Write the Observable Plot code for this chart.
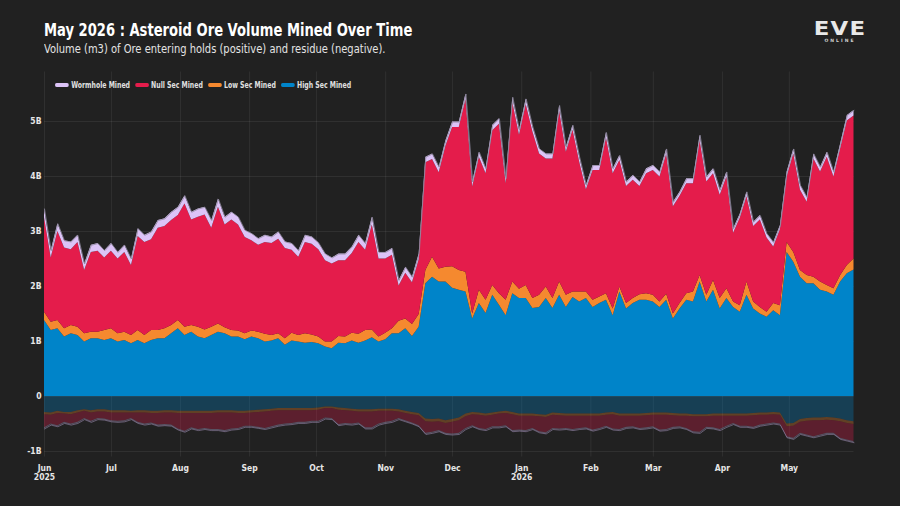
<!DOCTYPE html>
<html><head><meta charset="utf-8">
<script src="https://cdn.jsdelivr.net/npm/d3@7"></script>
<script src="https://cdn.jsdelivr.net/npm/@observablehq/plot@0.6"></script>
<style>
html,body{margin:0;padding:0;background:#212121;}
#wrap{position:relative;width:900px;height:506px;overflow:hidden;background:#212121;font-family:"DejaVu Sans Condensed","DejaVu Sans",sans-serif;}
#chart{position:absolute;left:0;top:0;}
#title{position:absolute;left:44px;top:19px;color:#fff;font-weight:700;font-size:18px;white-space:nowrap;transform:scaleX(0.81);transform-origin:0 0;}
#subtitle{position:absolute;left:44px;top:41px;color:#e4e4e4;font-size:13px;white-space:nowrap;transform:scaleX(0.85);transform-origin:0 0;}
#legend{position:absolute;left:55px;top:80px;display:flex;gap:6px;font-size:8.5px;font-weight:700;color:#e0e0e0;white-space:nowrap;transform:scaleX(0.81);transform-origin:0 0;}
#legend .it{display:flex;align-items:center;gap:3px;}
#legend .sw{width:17px;height:4px;border-radius:2px;display:inline-block;}
#logo{position:absolute;left:806px;top:19px;width:68px;text-align:center;color:#e8e8e8;}
#logo .eve{font-family:"DejaVu Sans",sans-serif;font-weight:700;font-size:19px;letter-spacing:1px;line-height:19px;transform:scaleX(1.2);}
#logo .onl{font-family:"DejaVu Sans",sans-serif;font-weight:700;font-size:4.5px;letter-spacing:2px;line-height:6px;color:#cfcfcf;}
</style></head>
<body>
<div id="wrap">
  <div id="chart"></div>
  <div id="title">May 2026 : Asteroid Ore Volume Mined Over Time</div>
  <div id="subtitle">Volume (m3) of Ore entering holds (positive) and residue (negative).</div>
  <div id="legend"></div>
  <div id="logo"><div class="eve">EVE</div><div class="onl">ONLINE</div></div>
</div>
<script>
// ---- data (billions of m3), one value every 3 days from 2025-06-01 ----
const startDate = "2025-06-01";
const stepDays = 3;

const highSec = [1.38,1.20,1.23,1.08,1.14,1.11,0.99,1.05,1.05,1.02,1.05,0.99,1.02,0.96,1.02,0.96,1.02,1.05,1.05,1.14,1.23,
1.11,1.17,1.08,1.05,1.11,1.17,1.14,1.08,1.08,1.03,1.08,1.05,0.99,1.01,1.05,0.93,1.01,0.99,0.97,0.98,
0.96,0.90,0.87,0.97,0.96,1.01,0.97,1.01,1.07,0.99,1.03,1.14,1.14,1.23,1.09,1.26,2.05,2.17,2.08,2.08,
1.97,1.93,1.90,1.41,1.69,1.51,1.84,1.66,1.47,1.87,1.78,1.78,1.60,1.62,1.78,1.60,1.84,1.62,1.80,1.72,
1.78,1.62,1.69,1.75,1.47,1.90,1.59,1.69,1.75,1.75,1.72,1.62,1.75,1.41,1.59,1.75,1.72,2.08,1.72,1.93,
1.59,1.78,1.62,1.53,1.84,1.59,1.50,1.44,1.56,1.47,2.62,2.44,2.17,2.05,2.05,1.93,1.90,1.84,2.08,2.23,2.30];

const lowSec = [.15,.15,.15,.15,.15,.15,.15,.12,.12,.18,.18,.15,.15,.15,.18,.15,.18,.15,.18,.15,.15,
.15,.12,.18,.16,.15,.15,.11,.12,.11,.11,.11,.12,.14,.10,.09,.12,.14,.12,.17,.14,
.12,.09,.12,.12,.12,.14,.16,.19,.14,.09,.12,.09,.23,.18,.22,.23,.24,.36,.24,.27,
.39,.36,.36,.09,.24,.24,.18,.21,.28,.21,.17,.24,.18,.22,.21,.18,.24,.22,.10,.18,
.12,.13,.12,.12,.12,.09,.10,.09,.10,.12,.12,.10,.11,.09,.10,.12,.18,.12,.12,.18,
.19,.18,.10,.12,.24,.13,.12,.09,.13,.18,.18,.18,.12,.15,.12,.15,.12,.12,.12,.15,.20];

const nullSec = [1.72,1.17,1.62,1.47,1.38,1.54,1.15,1.45,1.47,1.32,1.41,1.36,1.45,1.27,1.71,1.69,1.65,1.86,1.86,1.91,1.91,
2.24,1.92,2.00,2.09,1.80,2.12,1.87,2.01,1.93,1.75,1.64,1.58,1.67,1.67,1.72,1.64,1.51,1.42,1.66,1.65,
1.59,1.48,1.42,1.38,1.39,1.45,1.67,1.46,1.91,1.42,1.35,1.34,0.64,0.83,0.76,0.99,1.96,1.78,1.75,2.20,
2.53,2.60,3.14,2.31,2.42,2.30,2.81,3.08,2.12,3.26,2.80,3.29,3.03,2.57,2.33,2.54,3.11,2.60,2.94,2.36,
1.86,2.36,2.30,2.83,2.46,2.30,2.13,2.15,1.97,2.18,2.27,2.27,2.54,1.95,1.95,2.00,1.97,2.45,2.06,1.94,
1.88,2.03,1.25,1.59,1.55,1.37,1.59,1.35,1.03,1.38,1.19,1.79,1.46,1.33,2.15,2.00,2.33,2.03,2.30,2.63,2.60];

const wormhole = [.16,.13,.14,.13,.14,.13,.12,.13,.14,.13,.14,.12,.13,.12,.14,.13,.14,.14,.14,.15,.15,
.15,.14,.15,.14,.14,.15,.14,.14,.14,.13,.13,.12,.13,.12,.13,.12,.12,.12,.13,.13,
.12,.12,.11,.12,.12,.12,.13,.12,.14,.12,.12,.12,.10,.11,.10,.11,.10,.10,.10,.10,
.10,.10,.10,.09,.09,.09,.10,.10,.09,.10,.09,.10,.09,.09,.09,.09,.10,.09,.09,.09,
.08,.09,.09,.10,.09,.09,.08,.09,.08,.09,.09,.09,.10,.08,.08,.09,.09,.10,.09,.09,
.09,.09,.08,.08,.09,.08,.08,.08,.08,.08,.09,.09,.09,.09,.09,.09,.09,.09,.09,.10,.10];

// residue (drawn below zero), magnitudes
const residueHigh = [.29,.30,.27,.29,.29,.26,.24,.26,.24,.24,.26,.26,.26,.27,.26,.26,.27,.27,.26,.26,.27,
.27,.27,.27,.27,.27,.26,.26,.26,.27,.27,.26,.25,.24,.23,.22,.22,.22,.22,.22,.22,
.21,.19,.19,.21,.22,.23,.24,.24,.24,.23,.23,.23,.24,.27,.29,.31,.41,.42,.41,.44,
.42,.39,.32,.29,.30,.32,.30,.28,.27,.29,.32,.32,.32,.33,.34,.30,.31,.32,.32,.32,
.32,.32,.32,.30,.29,.32,.32,.32,.32,.31,.30,.30,.30,.31,.32,.32,.33,.33,.33,.32,
.32,.32,.32,.32,.32,.31,.30,.30,.29,.30,.50,.49,.42,.40,.39,.39,.38,.39,.41,.44,.46];

const residueLow = [.04,.04,.04,.03,.04,.04,.03,.04,.04,.04,.04,.04,.04,.03,.04,.04,.04,.04,.04,.04,.04,
.04,.04,.04,.04,.04,.04,.04,.04,.04,.04,.04,.04,.04,.04,.04,.04,.04,.04,.04,.04,
.04,.03,.03,.04,.04,.04,.04,.04,.04,.04,.04,.04,.04,.04,.04,.04,.05,.05,.05,.05,
.05,.05,.05,.04,.04,.04,.04,.04,.04,.04,.04,.04,.04,.04,.04,.04,.04,.04,.04,.04,
.04,.04,.04,.04,.04,.04,.04,.04,.04,.04,.04,.04,.04,.04,.04,.04,.04,.04,.04,.04,
.04,.04,.04,.04,.04,.04,.04,.04,.04,.04,.05,.05,.05,.05,.05,.05,.05,.05,.05,.05,.05];

const residueNull = [.24,.16,.22,.15,.17,.17,.13,.15,.12,.13,.14,.15,.14,.10,.17,.20,.17,.21,.21,.22,.28,
.32,.26,.29,.27,.29,.30,.32,.29,.27,.23,.24,.27,.30,.28,.26,.24,.23,.21,.21,.19,
.20,.17,.18,.26,.23,.23,.20,.29,.29,.23,.20,.18,.12,.13,.15,.18,.21,.18,.16,.18,
.21,.23,.21,.20,.24,.24,.21,.23,.22,.29,.25,.26,.22,.27,.28,.24,.24,.22,.24,.22,
.21,.25,.22,.20,.26,.24,.20,.19,.22,.22,.21,.27,.26,.21,.19,.22,.27,.28,.19,.21,
.24,.18,.13,.18,.18,.21,.18,.16,.15,.16,.18,.22,.20,.25,.29,.26,.24,.23,.30,.30,.31];

const residueWormhole = [.02,.02,.02,.02,.02,.02,.02,.02,.02,.02,.02,.02,.02,.02,.02,.02,.02,.02,.02,.02,.02,
.02,.02,.02,.02,.02,.02,.02,.02,.02,.02,.02,.02,.02,.02,.02,.02,.02,.02,.02,.02,
.02,.02,.02,.02,.02,.02,.02,.02,.02,.02,.02,.02,.02,.02,.02,.02,.02,.02,.02,.02,
.02,.02,.02,.02,.02,.02,.02,.02,.02,.02,.02,.02,.02,.02,.02,.02,.02,.02,.02,.02,
.02,.02,.02,.02,.02,.02,.02,.02,.02,.02,.02,.02,.02,.02,.02,.02,.02,.02,.02,.02,
.02,.02,.02,.02,.02,.02,.02,.02,.02,.02,.02,.02,.02,.02,.02,.02,.02,.02,.02,.02,.02];

const seriesNames = ["High Sec Mined","Low Sec Mined","Null Sec Mined","Wormhole Mined"];
const seriesColors = ["#0084c9","#f5892f","#e41c4b","#dcc3f7"];
const legendOrder = ["Wormhole Mined","Null Sec Mined","Low Sec Mined","High Sec Mined"];
const yTicks = [-1,0,1,2,3,4,5];
const monthTicks = ["2025-06-01","2025-07-01","2025-08-01","2025-09-01","2025-10-01","2025-11-01",
  "2025-12-01","2026-01-01","2026-02-01","2026-03-01","2026-04-01","2026-05-01"];
const yearLabelMonths = ["2025-06-01","2026-01-01"];

// ---- build tables ----
const start = new Date(startDate + "T00:00:00Z");
const dates = highSec.map((_, i) => d3.utcDay.offset(start, i * stepDays));
const mined = [highSec, lowSec, nullSec, wormhole];
const residue = [residueHigh, residueLow, residueNull, residueWormhole];
const pos = [], neg = [];
seriesNames.forEach((s, k) => dates.forEach((d, i) => {
  pos.push({date: d, series: s, v: mined[k][i]});
  neg.push({date: d, series: s, v: -residue[k][i]});
}));
const topLine = dates.map((d, i) => ({date: d, v: mined.reduce((a, arr) => a + arr[i], 0)}));
const bottomLine = dates.map((d, i) => ({date: d, v: -residue.reduce((a, arr) => a + arr[i], 0)}));
const ticksX = monthTicks.map(s => new Date(s + "T00:00:00Z"));
const fmtM = d3.utcFormat("%b");

const chart = Plot.plot({
  width: 900, height: 506,
  marginLeft: 44, marginRight: 46.5, marginTop: 71.5, marginBottom: 49.5,
  style: {background: "transparent", color: "#e6e6e6", fontFamily: '"DejaVu Sans Condensed","DejaVu Sans",sans-serif', fontSize: "8.5px", fontWeight: 700},
  x: {type: "utc", domain: [dates[0], dates[dates.length - 1]], label: null},
  y: {domain: [-1.1, 5.9], label: null},
  color: {domain: seriesNames, range: seriesColors},
  marks: [
    Plot.gridY(yTicks, {stroke: "#ffffff", strokeOpacity: 0.07}),
    Plot.gridX(ticksX, {stroke: "#ffffff", strokeOpacity: 0.07}),
    Plot.areaY(neg, {x: "date", y: "v", z: "series", fill: "series", fillOpacity: 0.3, order: seriesNames}),
    Plot.lineY(bottomLine, {x: "date", y: "v", stroke: "#b09cc8", strokeOpacity: 0.5, strokeWidth: 1}),
    Plot.areaY(pos, {x: "date", y: "v", z: "series", fill: "series", order: seriesNames}),
    Plot.lineY(topLine, {x: "date", y: "v", stroke: "#8f8aa0", strokeWidth: 0.8}),
    Plot.axisY(yTicks, {label: null, tickSize: 0, tickPadding: 3, tickFormat: d => d === 0 ? "0" : d + "B"}),
    Plot.axisX(ticksX, {label: null, tickSize: 0, tickPadding: 8, tickFormat: d => {
      const k = d3.utcFormat("%Y-%m-%d")(d);
      return yearLabelMonths.includes(k) ? fmtM(d) + "\n" + d.getUTCFullYear() : fmtM(d);
    }})
  ]
});
document.getElementById("chart").appendChild(chart);

const lg = document.getElementById("legend");
legendOrder.forEach(name => {
  const it = document.createElement("div"); it.className = "it";
  const sw = document.createElement("span"); sw.className = "sw";
  sw.style.background = seriesColors[seriesNames.indexOf(name)];
  const t = document.createElement("span"); t.textContent = name;
  it.appendChild(sw); it.appendChild(t); lg.appendChild(it);
});
</script>
</body></html>
